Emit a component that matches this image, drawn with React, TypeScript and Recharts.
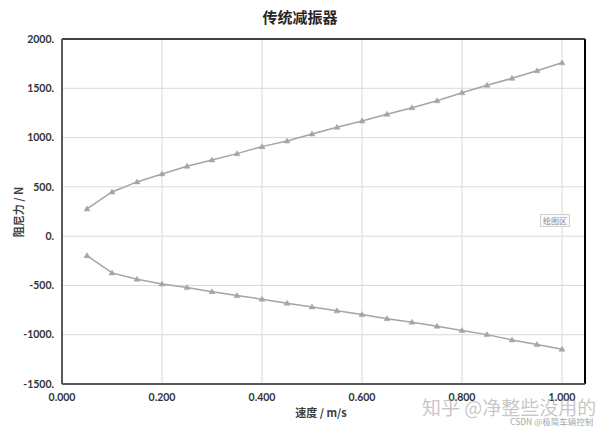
import { LineChart, Line, XAxis, YAxis, CartesianGrid, ReferenceLine } from 'recharts';

const speeds = [0.05, 0.1, 0.15, 0.2, 0.25, 0.3, 0.35, 0.4, 0.45, 0.5, 0.55, 0.6, 0.65, 0.7, 0.75, 0.8, 0.85, 0.9, 0.95, 1.0];
const reboundForce = [276, 448, 550, 631, 709, 773, 837, 908, 965, 1036, 1104, 1168, 1236, 1303, 1374, 1455, 1530, 1601, 1678, 1759];
const compressionForce = [-198, -373, -437, -485, -522, -563, -603, -640, -681, -718, -758, -796, -837, -873, -914, -958, -999, -1053, -1100, -1147];
const xTicks = [0, 0.2, 0.4, 0.6, 0.8, 1.0];
const yTicks = [-1500, -1000, -500, 0, 500, 1000, 1500, 2000];
const X_MAX = 1.046;

const rows = speeds.map((v, i) => ({ v, up: reboundForce[i], down: compressionForce[i] }));

const SERIES = '#a5a5a5';
const FONT = 'Lato, "Noto Sans CJK SC", sans-serif';
const CJK = '"Noto Sans CJK SC", sans-serif';

// small filled triangle marker, like Excel's
const Triangle = (props: any) => {
  const { cx, cy } = props;
  if (cx == null || cy == null) return null;
  return <path d={`M${cx},${cy - 3} L${cx + 3},${cy + 2} L${cx - 3},${cy + 2} Z`} fill={SERIES} stroke={SERIES} strokeWidth={0.5} />;
};

const tickStyle = { fontSize: 10.5, fontWeight: 700, fill: '#333', fontFamily: FONT };

export default function App() {
  return (
    <div style={{ position: 'absolute', left: 0, top: 0, width: 600, height: 428, background: '#fff', fontFamily: FONT }}>
      <div style={{ position: 'absolute', left: 0, width: 600, top: 6, textAlign: 'center', fontSize: 15, fontWeight: 700, color: '#262626', fontFamily: CJK }}>
        传统减振器
      </div>
      <LineChart width={600} height={428} data={rows} margin={{ top: 39, right: 15, bottom: 20, left: 12 }}>
        <CartesianGrid stroke="#d9d9d9" />
        <XAxis
          type="number"
          dataKey="v"
          domain={[0, X_MAX]}
          ticks={xTicks}
          tickFormatter={(t: number) => t.toFixed(3)}
          tick={tickStyle}
          tickLine={false}
          axisLine={{ stroke: '#595959', strokeWidth: 2 }}
          height={24}
          tickMargin={4}
        />
        <YAxis
          type="number"
          domain={[-1500, 2000]}
          ticks={yTicks}
          tickFormatter={(t: number) => `${t}.`}
          tick={tickStyle}
          tickLine={false}
          axisLine={{ stroke: '#595959', strokeWidth: 2 }}
          width={50}
          tickMargin={2}
        />
        <ReferenceLine y={2000} stroke="#404040" strokeWidth={2} />
        <ReferenceLine x={X_MAX} stroke="#000" strokeWidth={2} />
        <Line dataKey="up" stroke={SERIES} strokeWidth={1.5} dot={<Triangle />} activeDot={false} isAnimationActive={false} />
        <Line dataKey="down" stroke={SERIES} strokeWidth={1.5} dot={<Triangle />} activeDot={false} isAnimationActive={false} />
      </LineChart>
      <div style={{ position: 'absolute', left: 18, top: 212, transform: 'translate(-50%, -50%) rotate(-90deg)', fontSize: 11, fontWeight: 600, color: '#404040', whiteSpace: 'nowrap', fontFamily: CJK }}>
        阻尼力 / N
      </div>
      <div style={{ position: 'absolute', left: 321, top: 412, transform: 'translate(-50%, -50%)', fontSize: 11, fontWeight: 600, color: '#404040', whiteSpace: 'nowrap', fontFamily: CJK }}>
        速度 / m/s
      </div>
      <div style={{ position: 'absolute', left: 540, top: 214, fontSize: 8, color: '#8c8c8c', border: '1px solid #d0d0d0', padding: '0 2px', background: '#fafafa', fontFamily: CJK }}>
        绘图区
      </div>
      <div style={{ position: 'absolute', left: 422, top: 393, fontSize: 19, color: 'rgba(150,150,150,0.55)', whiteSpace: 'nowrap', fontFamily: CJK }}>
        知乎 @净整些没用的
      </div>
      <div style={{ position: 'absolute', left: 510, top: 415, fontSize: 8.5, color: 'rgba(140,140,140,0.8)', whiteSpace: 'nowrap', fontFamily: CJK }}>
        CSDN @极简车辆控制
      </div>
    </div>
  );
}
